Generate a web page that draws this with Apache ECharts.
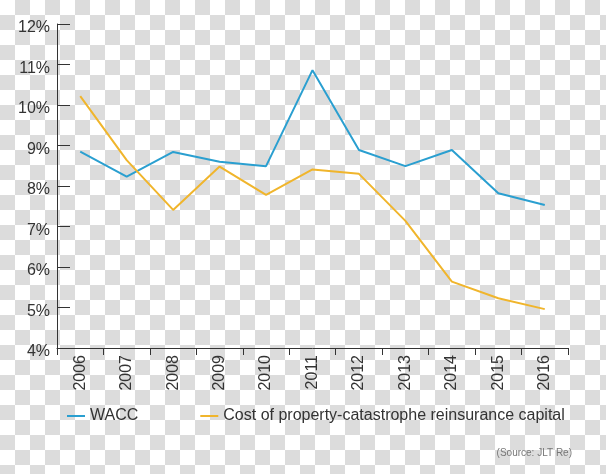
<!DOCTYPE html>
<html>
<head>
<meta charset="utf-8">
<script src="https://cdn.jsdelivr.net/npm/echarts@6/dist/echarts.min.js"></script>
<style>
  html, body { margin: 0; padding: 0; }
  body {
    width: 606px; height: 474px;
    background-color: #fff;
    background-image: conic-gradient(#dcdcdc 25%, #fff 0 50%, #dcdcdc 0 75%, #fff 0);
    background-size: 30px 30px;
    background-position: 0 0;
  }
  #chart { width: 606px; height: 474px; }
</style>
</head>
<body>
<div id="chart"></div>
<script>
const years = ['2006','2007','2008','2009','2010','2011','2012','2013','2014','2015','2016'];
const wacc = [8.85, 8.23, 8.84, 8.60, 8.49, 10.86, 8.89, 8.49, 8.89, 7.82, 7.53];
const catCapital = [10.22, 8.64, 7.41, 8.48, 7.78, 8.41, 8.30, 7.14, 5.64, 5.23, 4.96];
const seriesNames = ['WACC', 'Cost of property-catastrophe reinsurance capital'];
const sourceText = '(Source: JLT Re)';

const FONT = '"Liberation Sans", Arial, Helvetica, sans-serif';
const chart = echarts.init(document.getElementById('chart'), null, { renderer: 'canvas' });
chart.setOption({
  animation: false,
  backgroundColor: 'transparent',
  textStyle: { fontFamily: FONT },
  grid: { left: 57, right: 38, top: 24, bottom: 126, containLabel: false },
  legend: {
    left: 62, top: 403,
    icon: 'rect', itemWidth: 18, itemHeight: 2, itemGap: 62,
    textStyle: { fontSize: 16, color: '#333', fontFamily: FONT },
    data: seriesNames
  },
  xAxis: {
    type: 'category', data: years, boundaryGap: true,
    axisLine: { show: true, lineStyle: { color: '#333', width: 1 } },
    axisTick: { show: true, inside: false, length: 7, lineStyle: { color: '#333' } },
    axisLabel: { rotate: 90, fontSize: 16, color: '#333', margin: 7, fontFamily: FONT },
    splitLine: { show: false }
  },
  yAxis: {
    type: 'value', min: 4, max: 12, interval: 1,
    axisLine: { show: true, lineStyle: { color: '#333', width: 1 } },
    axisTick: { show: true, inside: true, length: 13, lineStyle: { color: '#333' } },
    axisLabel: { formatter: '{value}%', fontSize: 16, color: '#333', margin: 7,
      verticalAlign: 'top', lineHeight: 8, fontFamily: FONT },
    splitLine: { show: false }
  },
  series: [
    { name: seriesNames[0], type: 'line', data: wacc, symbol: 'none',
      lineStyle: { color: '#2a9fd0', width: 2 }, itemStyle: { color: '#2a9fd0' } },
    { name: seriesNames[1], type: 'line', data: catCapital, symbol: 'none',
      lineStyle: { color: '#f0b52c', width: 2 }, itemStyle: { color: '#f0b52c' } }
  ],
  graphic: [
    { type: 'text', right: 34, top: 448,
      style: { text: sourceText, fontSize: 10, fill: '#777', fontFamily: FONT } }
  ]
});
</script>
</body>
</html>
